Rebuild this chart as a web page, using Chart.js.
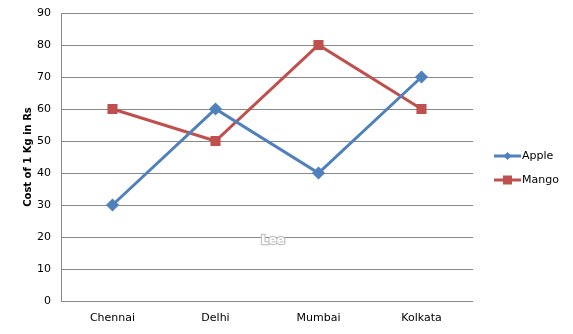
<!DOCTYPE html>
<html><head><meta charset="utf-8">
<script src="https://cdn.jsdelivr.net/npm/chart.js@4/dist/chart.umd.min.js"></script>
<style>html,body{margin:0;padding:0;background:#fff}#wrap{width:573px;height:334px}</style>
</head><body><div id="wrap"><canvas id="c" width="573" height="334"></canvas></div>
<script>
const categories = ["Chennai", "Delhi", "Mumbai", "Kolkata"];
const appleValues = [30, 60, 40, 70];
const mangoValues = [60, 50, 80, 60];
const yTicks = [0, 10, 20, 30, 40, 50, 60, 70, 80, 90];
const seriesNames = ["Apple", "Mango"];
const seriesColors = ["#4F81BD", "#C0504D"];
const FONT = "DejaVu Sans";

const legendPlugin = {
  id: 'customLegend',
  afterDraw(chart) {
    const ctx = chart.ctx;
    ctx.save();
    const items = [{y:156, c:seriesColors[0], s:'diamond', t:seriesNames[0]}, {y:180, c:seriesColors[1], s:'square', t:seriesNames[1]}];
    items.forEach(it => {
      ctx.strokeStyle = it.c; ctx.lineWidth = 3;
      ctx.beginPath(); ctx.moveTo(494, it.y); ctx.lineTo(521, it.y); ctx.stroke();
      ctx.fillStyle = it.c;
      if (it.s === 'diamond') {
        ctx.beginPath(); ctx.moveTo(507.5, it.y-4); ctx.lineTo(511.5, it.y); ctx.lineTo(507.5, it.y+4); ctx.lineTo(503.5, it.y); ctx.closePath(); ctx.fill();
      } else {
        ctx.fillRect(503, it.y-4.5, 9, 9);
      }
      ctx.fillStyle = '#000'; ctx.font = '11px ' + FONT; ctx.textBaseline = 'middle'; ctx.textAlign='left';
      ctx.fillText(it.t, 522, it.y);
    });
    // watermark
    ctx.font = 'bold 12px ' + FONT; ctx.textAlign='center'; ctx.textBaseline='middle';
    ctx.lineWidth = 2.5; ctx.strokeStyle = '#c4c4c4'; ctx.strokeText('Lee', 273, 241);
    ctx.fillStyle = '#ffffff'; ctx.fillText('Lee', 273, 241);
    ctx.restore();
  }
};

new Chart(document.getElementById('c'), {
  type: 'line',
  data: {
    labels: categories,
    datasets: [
      {label: seriesNames[0], data: appleValues, borderColor: seriesColors[0], backgroundColor: seriesColors[0], borderWidth: 3, pointStyle: 'rectRot', pointRadius: 4.5, pointHoverRadius: 4.5, tension: 0},
      {label: seriesNames[1], data: mangoValues, borderColor: seriesColors[1], backgroundColor: seriesColors[1], borderWidth: 3, pointStyle: 'rect', pointRadius: 5, pointHoverRadius: 5, tension: 0}
    ]
  },
  options: {
    responsive: false, animation: false,
    layout: {padding: {left: 0, right: 100, top: 13, bottom: 0}},
    plugins: {legend: {display: false}, tooltip: {enabled: false}},
    scales: {
      x: {
        offset: true,
        grid: {display: false, drawTicks: false},
        border: {display: false},
        ticks: {color: '#000', font: {family: FONT, size: 11}, padding: 11},
        afterFit(s) { s.height = 33; s.paddingLeft = 0; s.paddingRight = 0; }
      },
      y: {
        min: 0, max: 90,
        afterBuildTicks(s) { s.ticks = yTicks.map(v => ({value: v})); },
        grid: {color: '#888888', lineWidth: 1, drawTicks: false},
        border: {display: true, color: '#888888'},
        ticks: {color: '#000', font: {family: FONT, size: 11}, padding: 10},
        title: {display: true, text: 'Cost of 1 Kg in Rs', color: '#000', font: {family: FONT, size: 10, weight: 'bold'}, padding: {top: 22, bottom: 0}},
        afterFit(s) { s.width = 61; s.paddingTop = 0; s.paddingBottom = 0; }
      }
    }
  },
  plugins: [legendPlugin]
});
</script></body></html>
